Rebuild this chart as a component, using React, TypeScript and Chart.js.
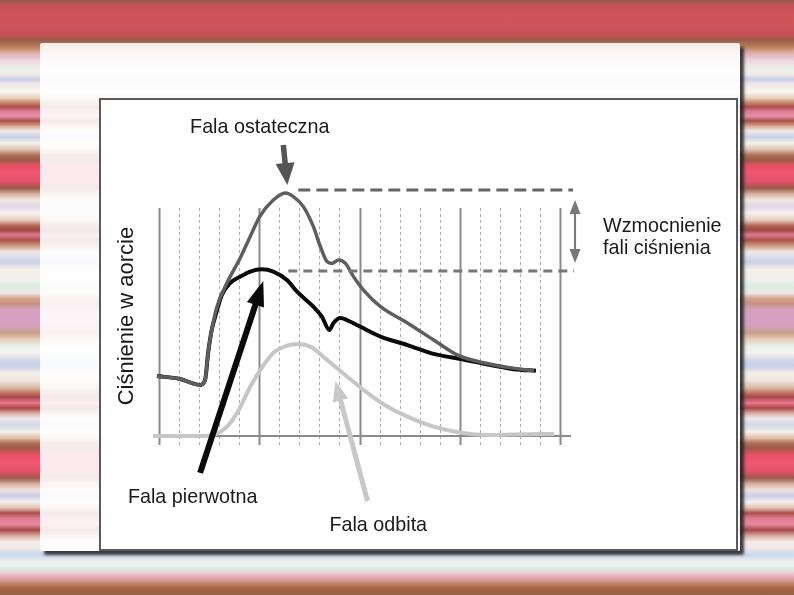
import React, { useEffect, useRef } from "react";
import { Chart, registerables } from "chart.js";

Chart.register(...registerables);

// ---- data (time in grid units, pressure in arbitrary units) ----
const primaryX = [-0.1, 1.05, 2.05, 2.3, 2.45, 2.63, 2.8, 3.13, 3.55, 4.05, 4.55, 5.13, 5.7, 6.38, 6.9, 7.7, 8.13, 8.5, 8.7, 9.05, 9.55, 10.05, 11.05, 12.4, 13.7, 15.05, 16.55, 17.7, 18.8];
const primaryY = [26.3, 25.0, 22.4, 24.6, 36.4, 46.5, 52.3, 61.8, 67.1, 69.9, 72.1, 73.1, 72.1, 68.4, 63.2, 56.7, 52.3, 46.5, 49.6, 51.8, 50.1, 47.9, 43.6, 39.9, 36.0, 33.8, 31.1, 29.3, 28.6];

const finalX = [-0.1, 1.05, 2.05, 2.3, 2.45, 2.63, 2.89, 3.39, 4.05, 4.7, 5.02, 5.7, 6.3, 6.7, 7.2, 7.7, 8.05, 8.39, 8.64, 8.95, 9.3, 9.7, 10.2, 11.05, 12.39, 13.7, 14.89, 16.2, 17.39, 18.7];
const finalY = [26.3, 25.0, 22.4, 24.6, 36.4, 46.5, 56.7, 67.1, 78.1, 90.4, 96.2, 103.5, 106.6, 105.0, 100.6, 91.8, 83.0, 76.4, 75.7, 77.2, 75.7, 69.9, 64.0, 56.7, 49.6, 42.1, 35.5, 32.1, 30.1, 28.6];

const reflectedX = [-0.3, 2.39, 2.8, 3.39, 3.95, 4.55, 5.05, 5.7, 6.39, 6.95, 7.55, 8.39, 9.39, 10.39, 11.39, 12.39, 13.7, 15.05, 16.39, 17.7, 19.7];
const reflectedY = [0, 0, 0.7, 4.1, 11.0, 21.6, 28.9, 36.4, 39.6, 40.4, 39.2, 33.3, 26.0, 18.9, 12.9, 8.5, 4.1, 1.4, 0.4, 0.7, 0.9];

const gridTicks = [0, 1, 2, 3, 4, 5, 6, 7, 8, 9, 10, 11, 12, 13, 14, 15, 16, 17, 18, 19, 20];
const majorTicks = [0, 5, 10, 15, 20];

// ---- labels ----
const yAxisLabel = "Ciśnienie w aorcie";
const labelFinal = "Fala ostateczna";
const labelPrimary = "Fala pierwotna";
const labelReflected = "Fala odbita";
const labelAmp = ["Wzmocnienie", "fali ciśnienia"];

// annotation levels (data units)
const AMP_HIGH = 107.9;
const AMP_LOW = 72.4;

// background stripes [y, color]
const stripeStops: [number, string][] = [
  [0, "#94594a"], [6, "#c9505a"], [20, "#d05358"], [34, "#c9505a"], [40, "#9c5a48"], [47, "#b9805a"],
  [53, "#e0b0a8"], [58, "#e8c8d8"], [63, "#f0e0e0"], [69, "#e8f0e8"], [74, "#f5eee8"], [79, "#c8d0ea"],
  [84, "#f0e8e8"], [92, "#faf5f0"], [98, "#e8d0c0"], [102, "#c89070"], [107, "#a85048"], [111, "#e07890"],
  [116, "#e890a8"], [121, "#a85048"], [126, "#d8a890"], [131, "#f0e8e8"], [137, "#c8d0e8"], [143, "#f5f0e8"],
  [149, "#e0c8b8"], [155, "#b07058"], [160, "#9c5a48"], [166, "#e85068"], [174, "#f05870"], [182, "#e05068"],
  [188, "#9c5a48"], [194, "#d8b0a0"], [200, "#f0e8e0"], [207, "#e0d8e8"], [213, "#f8f0f0"], [220, "#e8d0c0"],
  [226, "#b06050"], [230, "#a04848"], [235, "#e07890"], [240, "#a85048"], [245, "#c89078"], [252, "#f0e8e8"],
  [262, "#c8d0e8"], [270, "#f5f0e8"], [280, "#f0f0f0"], [287, "#d8ece0"], [293, "#f0e8e8"], [298, "#d8a890"],
  [303, "#c89080"], [310, "#d8a0c0"], [325, "#d8a0c0"], [333, "#c8a088"], [340, "#e8d0c0"], [347, "#e8f4ec"],
  [353, "#f8f0f0"], [360, "#d0d8e8"], [367, "#c8d0e8"], [373, "#f5eee8"], [380, "#f0e8e0"], [388, "#d8b8a0"],
  [393, "#c07060"], [397, "#a84848"], [403, "#e87890"], [408, "#a84848"], [413, "#d8a8a0"], [418, "#f0e8e8"],
  [425, "#d0d8e8"], [432, "#f5f0e8"], [438, "#e0c0a8"], [443, "#b07058"], [448, "#9c5a48"], [455, "#e85068"],
  [464, "#f05870"], [472, "#e05068"], [478, "#9c5a48"], [484, "#d8b0a0"], [490, "#f0e0e0"], [496, "#c8d0e8"],
  [502, "#f8f0f0"], [508, "#e0c0b0"], [513, "#a85048"], [518, "#e07890"], [524, "#e88aa0"], [530, "#a84848"],
  [536, "#d8b0a0"], [542, "#f5ece8"], [548, "#f0e8e8"], [555, "#c8d8ec"], [562, "#f0f0f0"], [568, "#e0f0e8"],
  [572, "#f0d0d8"], [578, "#e0a8b0"], [583, "#c88870"], [588, "#a86448"], [595, "#94603f"],
];

const W = 794;
const H = 595;

function toPts(xs: number[], ys: number[]) {
  return xs.map((x, i) => ({ x, y: ys[i] }));
}

function drawArrow(ctx: CanvasRenderingContext2D, x1: number, y1: number, x2: number, y2: number, color: string, w: number, hl: number, hw: number) {
  const dx = x2 - x1, dy = y2 - y1;
  const len = Math.hypot(dx, dy);
  const ux = dx / len, uy = dy / len;
  const bx = x2 - ux * hl, by = y2 - uy * hl;
  ctx.save();
  ctx.strokeStyle = color;
  ctx.fillStyle = color;
  ctx.lineWidth = w;
  ctx.lineCap = "butt";
  ctx.beginPath();
  ctx.moveTo(x1, y1);
  ctx.lineTo(bx + ux * 1, by + uy * 1);
  ctx.stroke();
  ctx.beginPath();
  ctx.moveTo(x2, y2);
  ctx.lineTo(bx - uy * hw / 2, by + ux * hw / 2);
  ctx.lineTo(bx + uy * hw / 2, by - ux * hw / 2);
  ctx.closePath();
  ctx.fill();
  ctx.restore();
}

function narrowText(ctx: CanvasRenderingContext2D, text: string, x: number, y: number) {
  const sx = 0.94;
  ctx.save();
  ctx.translate(x, y);
  ctx.scale(sx, 1);
  ctx.fillText(text, 0, 0);
  ctx.restore();
}

const gridPlugin = {
  id: "gridPlugin",
  beforeDatasetsDraw(chart: any) {
    const { ctx, scales } = chart;
    const xs = scales.x, ys = scales.y;
    const top = ys.getPixelForValue(100);
    const base = ys.getPixelForValue(0);
    ctx.save();
    gridTicks.forEach((t) => {
      const px = Math.round(xs.getPixelForValue(t)) + 0.5;
      if (majorTicks.includes(t)) {
        ctx.setLineDash([]);
        ctx.strokeStyle = "#8a8a8a";
        ctx.lineWidth = 2;
      } else {
        ctx.setLineDash([3, 3]);
        ctx.strokeStyle = "#acacac";
        ctx.lineWidth = 1;
      }
      ctx.beginPath();
      ctx.moveTo(px, top);
      ctx.lineTo(px, base + 9);
      ctx.stroke();
    });
    ctx.setLineDash([]);
    ctx.strokeStyle = "#8a8a8a";
    ctx.lineWidth = 2;
    ctx.beginPath();
    ctx.moveTo(xs.getPixelForValue(-0.3), base);
    ctx.lineTo(xs.getPixelForValue(20.55), base);
    ctx.stroke();
    ctx.restore();
  },
};

const annotationPlugin = {
  id: "annotationPlugin",
  afterDatasetsDraw(chart: any) {
    const { ctx, scales } = chart;
    const X = (v: number) => scales.x.getPixelForValue(v);
    const Y = (v: number) => scales.y.getPixelForValue(v);
    ctx.save();
    // amplification dashed lines
    ctx.lineWidth = 3;
    ctx.strokeStyle = "#666666";
    ctx.setLineDash([12, 6]);
    ctx.beginPath();
    ctx.moveTo(X(6.95), Y(AMP_HIGH));
    ctx.lineTo(X(20.65), Y(AMP_HIGH));
    ctx.stroke();
    ctx.strokeStyle = "#777777";
    ctx.setLineDash([9, 6]);
    ctx.beginPath();
    ctx.moveTo(X(6.45), Y(AMP_LOW));
    ctx.lineTo(X(20.7), Y(AMP_LOW));
    ctx.stroke();
    ctx.setLineDash([]);

    // double-headed arrow
    const ax = X(20.75);
    const aTop = Y(AMP_HIGH - 4.4);
    const aBot = Y(AMP_LOW + 3.5);
    ctx.strokeStyle = "#777777";
    ctx.fillStyle = "#777777";
    ctx.lineWidth = 2;
    ctx.beginPath();
    ctx.moveTo(ax, aTop + 10);
    ctx.lineTo(ax, aBot - 10);
    ctx.stroke();
    ctx.beginPath();
    ctx.moveTo(ax, aTop);
    ctx.lineTo(ax - 5.5, aTop + 14);
    ctx.lineTo(ax + 5.5, aTop + 14);
    ctx.closePath();
    ctx.fill();
    ctx.beginPath();
    ctx.moveTo(ax, aBot);
    ctx.lineTo(ax - 5.5, aBot - 14);
    ctx.lineTo(ax + 5.5, aBot - 14);
    ctx.closePath();
    ctx.fill();

    // pointer arrows
    drawArrow(ctx, X(6.2), Y(127.6), X(6.4), Y(110.1), "#555555", 5.5, 22, 19);
    drawArrow(ctx, X(2.05), Y(-16.2), X(5.2), Y(68.0), "#0a0a0a", 6, 25, 18);
    drawArrow(ctx, X(10.4), Y(-28.5), X(8.8), Y(24.1), "#c8c8c8", 5, 20, 16);

    // texts
    ctx.fillStyle = "#1a1a1a";
    ctx.textBaseline = "alphabetic";
    ctx.textAlign = "left";
    ctx.font = '21px "Liberation Sans", Arial, sans-serif';
    narrowText(ctx, labelFinal, X(1.55), Y(132.9));
    narrowText(ctx, labelAmp[0], X(22.15), Y(89.6));
    narrowText(ctx, labelAmp[1], X(22.15), Y(79.8));
    narrowText(ctx, labelPrimary, X(-1.55), Y(-29.2));
    narrowText(ctx, labelReflected, X(8.5), Y(-41.7));

    ctx.font = '22px "Liberation Sans", Arial, sans-serif';
    ctx.translate(X(-1.3), Y(52.6));
    ctx.rotate(-Math.PI / 2);
    ctx.textAlign = "center";
    ctx.fillText(yAxisLabel, 0, 0);
    ctx.restore();
  },
};

export default function App() {
  const canvasRef = useRef<HTMLCanvasElement | null>(null);

  useEffect(() => {
    document.body.style.margin = "0";
    const chart = new Chart(canvasRef.current as HTMLCanvasElement, {
      type: "line",
      data: {
        datasets: [
          {
            label: labelReflected,
            data: toPts(reflectedX, reflectedY),
            borderColor: "#c6c6c6",
            borderWidth: 4,
            pointRadius: 0,
            cubicInterpolationMode: "monotone",
            clip: false as any,
          },
          {
            label: labelFinal,
            data: toPts(finalX, finalY),
            borderColor: "#5e5e5e",
            borderWidth: 3.5,
            pointRadius: 0,
            cubicInterpolationMode: "monotone",
            clip: false as any,
          },
          {
            label: labelPrimary,
            data: toPts(primaryX, primaryY),
            borderColor: "#0a0a0a",
            borderWidth: 4,
            pointRadius: 0,
            cubicInterpolationMode: "monotone",
            clip: false as any,
          },
        ],
      },
      options: {
        animation: false,
        responsive: false,
        events: [],
        layout: { padding: { left: 159, right: W - 560, top: 208, bottom: H - 436 } },
        scales: {
          x: { type: "linear", min: 0, max: 20, display: false },
          y: { type: "linear", min: 0, max: 100, display: false },
        },
        plugins: { legend: { display: false }, tooltip: { enabled: false } },
      },
      plugins: [gridPlugin, annotationPlugin],
    } as any);
    return () => chart.destroy();
  }, []);

  const gradient = "linear-gradient(to bottom, " + stripeStops.map(([y, c]) => `${c} ${y}px`).join(", ") + ")";

  return (
    <div style={{ position: "fixed", left: 0, top: 0, width: W, height: H, overflow: "hidden", background: gradient }}>
      <div
        style={{
          position: "absolute",
          left: 40,
          top: 43,
          width: 700,
          height: 508,
          background: "rgba(255,255,255,0.88)",
          borderRadius: 2,
          boxShadow: "4px 4px 3px rgba(30,30,30,0.85)",
        }}
      />
      <div
        style={{
          position: "absolute",
          left: 99,
          top: 98,
          width: 635,
          height: 449,
          background: "#ffffff",
          border: "2px solid #5a5a5a",
        }}
      />
      <canvas ref={canvasRef} width={W} height={H} style={{ position: "absolute", left: 0, top: 0 }} />
    </div>
  );
}
